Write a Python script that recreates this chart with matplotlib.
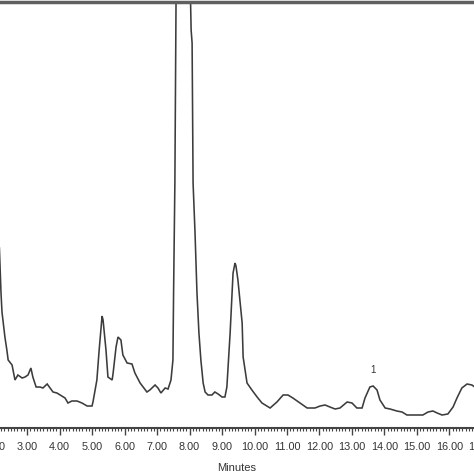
import matplotlib
matplotlib.use("Agg")
import matplotlib.pyplot as plt
from matplotlib.ticker import MultipleLocator, FormatStrFormatter

# Retention time (minutes) and detector response (arbitrary units)
time_min = [2.15, 2.20, 2.23, 2.32, 2.38, 2.42, 2.54, 2.63, 2.72, 2.85, 2.94, 3.03, 3.12, 3.18,
            3.28, 3.40, 3.49, 3.62, 3.71, 3.80, 3.92, 4.02, 4.17, 4.26, 4.38, 4.54, 4.69, 4.85,
            5.00, 5.03, 5.15, 5.22, 5.31, 5.34, 5.43, 5.49, 5.62, 5.65, 5.74, 5.80, 5.89, 5.95,
            6.08, 6.23, 6.32, 6.48, 6.69, 6.78, 6.94, 7.03, 7.12, 7.25, 7.34, 7.43, 7.49, 7.51,
            7.55, 7.60, 7.75, 7.85, 7.95, 8.03, 8.05, 8.08, 8.11, 8.17, 8.23, 8.29, 8.35, 8.42,
            8.48, 8.57, 8.69, 8.78, 8.88, 9.00, 9.09, 9.15, 9.25, 9.34, 9.40, 9.43, 9.49, 9.62,
            9.65, 9.77, 9.92, 10.08, 10.23, 10.48, 10.69, 10.88, 11.03, 11.18, 11.40, 11.62,
            11.86, 12.02, 12.17, 12.32, 12.48, 12.63, 12.85, 13.00, 13.15, 13.31, 13.40, 13.55,
            13.65, 13.77, 13.86, 14.02, 14.17, 14.38, 14.54, 14.69, 14.88, 15.18, 15.34, 15.49,
            15.62, 15.77, 15.95, 16.11, 16.23, 16.38, 16.54, 16.69, 16.82]
response = [180, 135, 116, 91, 78, 68, 63, 48, 53, 50, 51, 53, 60, 51,
            41, 41, 40, 44, 40, 36, 35, 33, 30, 25, 27, 27, 25, 22,
            22, 26, 48, 78, 112, 108, 78, 51, 48, 55, 81, 91, 88, 73,
            65, 64, 55, 45, 36, 38, 43, 40, 35, 40, 39, 48, 68, 135,
            245, 500, 760, 780, 650, 430, 398, 385, 245, 195, 135, 95, 68, 45,
            36, 33, 33, 36, 34, 31, 31, 41, 95, 155, 165, 162, 148, 105,
            71, 45, 38, 31, 25, 20, 26, 33, 33, 30, 25, 20,
            20, 22, 23, 21, 19, 20, 26, 25, 20, 20, 30, 41,
            42, 38, 28, 20, 19, 17, 16, 13, 13, 13, 16, 17,
            15, 13, 14, 21, 30, 40, 44, 43, 40]

peak_label_time = 13.65
peak_label_value = 53
peak_label_text = "1"

# labels of major ticks lying just outside the visible window (partly cut off)
edge_tick_times = [2.0, 17.0]

x_label = "Minutes"
x_min, x_max = 2.169, 16.754
y_min, y_max = 0, 426.5

fig = plt.figure(figsize=(4.74, 4.74), dpi=100)
ax = fig.add_axes([0.0, 1 - 428 / 474, 1.0, (428 - 1.5) / 474])

line_color = "#3c3c3c"
text_color = "#333333"
ax.plot(time_min, response, color=line_color, linewidth=1.15, solid_joinstyle="miter")
ax.text(peak_label_time, peak_label_value, peak_label_text, ha="center", va="bottom",
        fontsize=7, color=text_color, family="Liberation Sans")

ax.set_xlim(x_min, x_max)
ax.set_ylim(y_min, y_max)

tick_len, tick_pad, tick_size = 5, 5, 7.8
ax.xaxis.set_major_locator(MultipleLocator(1.0))
ax.xaxis.set_minor_locator(MultipleLocator(0.1))
ax.xaxis.set_major_formatter(FormatStrFormatter("%.2f"))
ax.tick_params(axis="x", which="major", direction="out", length=tick_len, width=1.0,
               color="#444444", labelsize=tick_size, labelcolor=text_color, pad=tick_pad)
ax.tick_params(axis="x", which="minor", direction="out", length=2.5, width=0.8, color="#444444")
ax.tick_params(axis="y", left=False, labelleft=False)
for lab in ax.get_xticklabels():
    lab.set_family("Liberation Sans")

for t in edge_tick_times:
    ax.annotate(f"{t:.2f}", xy=(t, 0), xycoords=("data", "axes fraction"),
                xytext=(0, -(tick_len + tick_pad)), textcoords="offset points",
                ha="center", va="top", fontsize=tick_size, color=text_color,
                family="Liberation Sans", annotation_clip=False)

ax.set_xlabel(x_label, fontsize=8, color=text_color, family="Liberation Sans", labelpad=8)

ax.spines["left"].set_visible(False)
ax.spines["right"].set_visible(False)
ax.spines["bottom"].set_color("#444444")
ax.spines["bottom"].set_linewidth(1.5)
ax.spines["top"].set_color("#606060")
ax.spines["top"].set_linewidth(2.5)

fig.savefig("out.png", dpi=100)
